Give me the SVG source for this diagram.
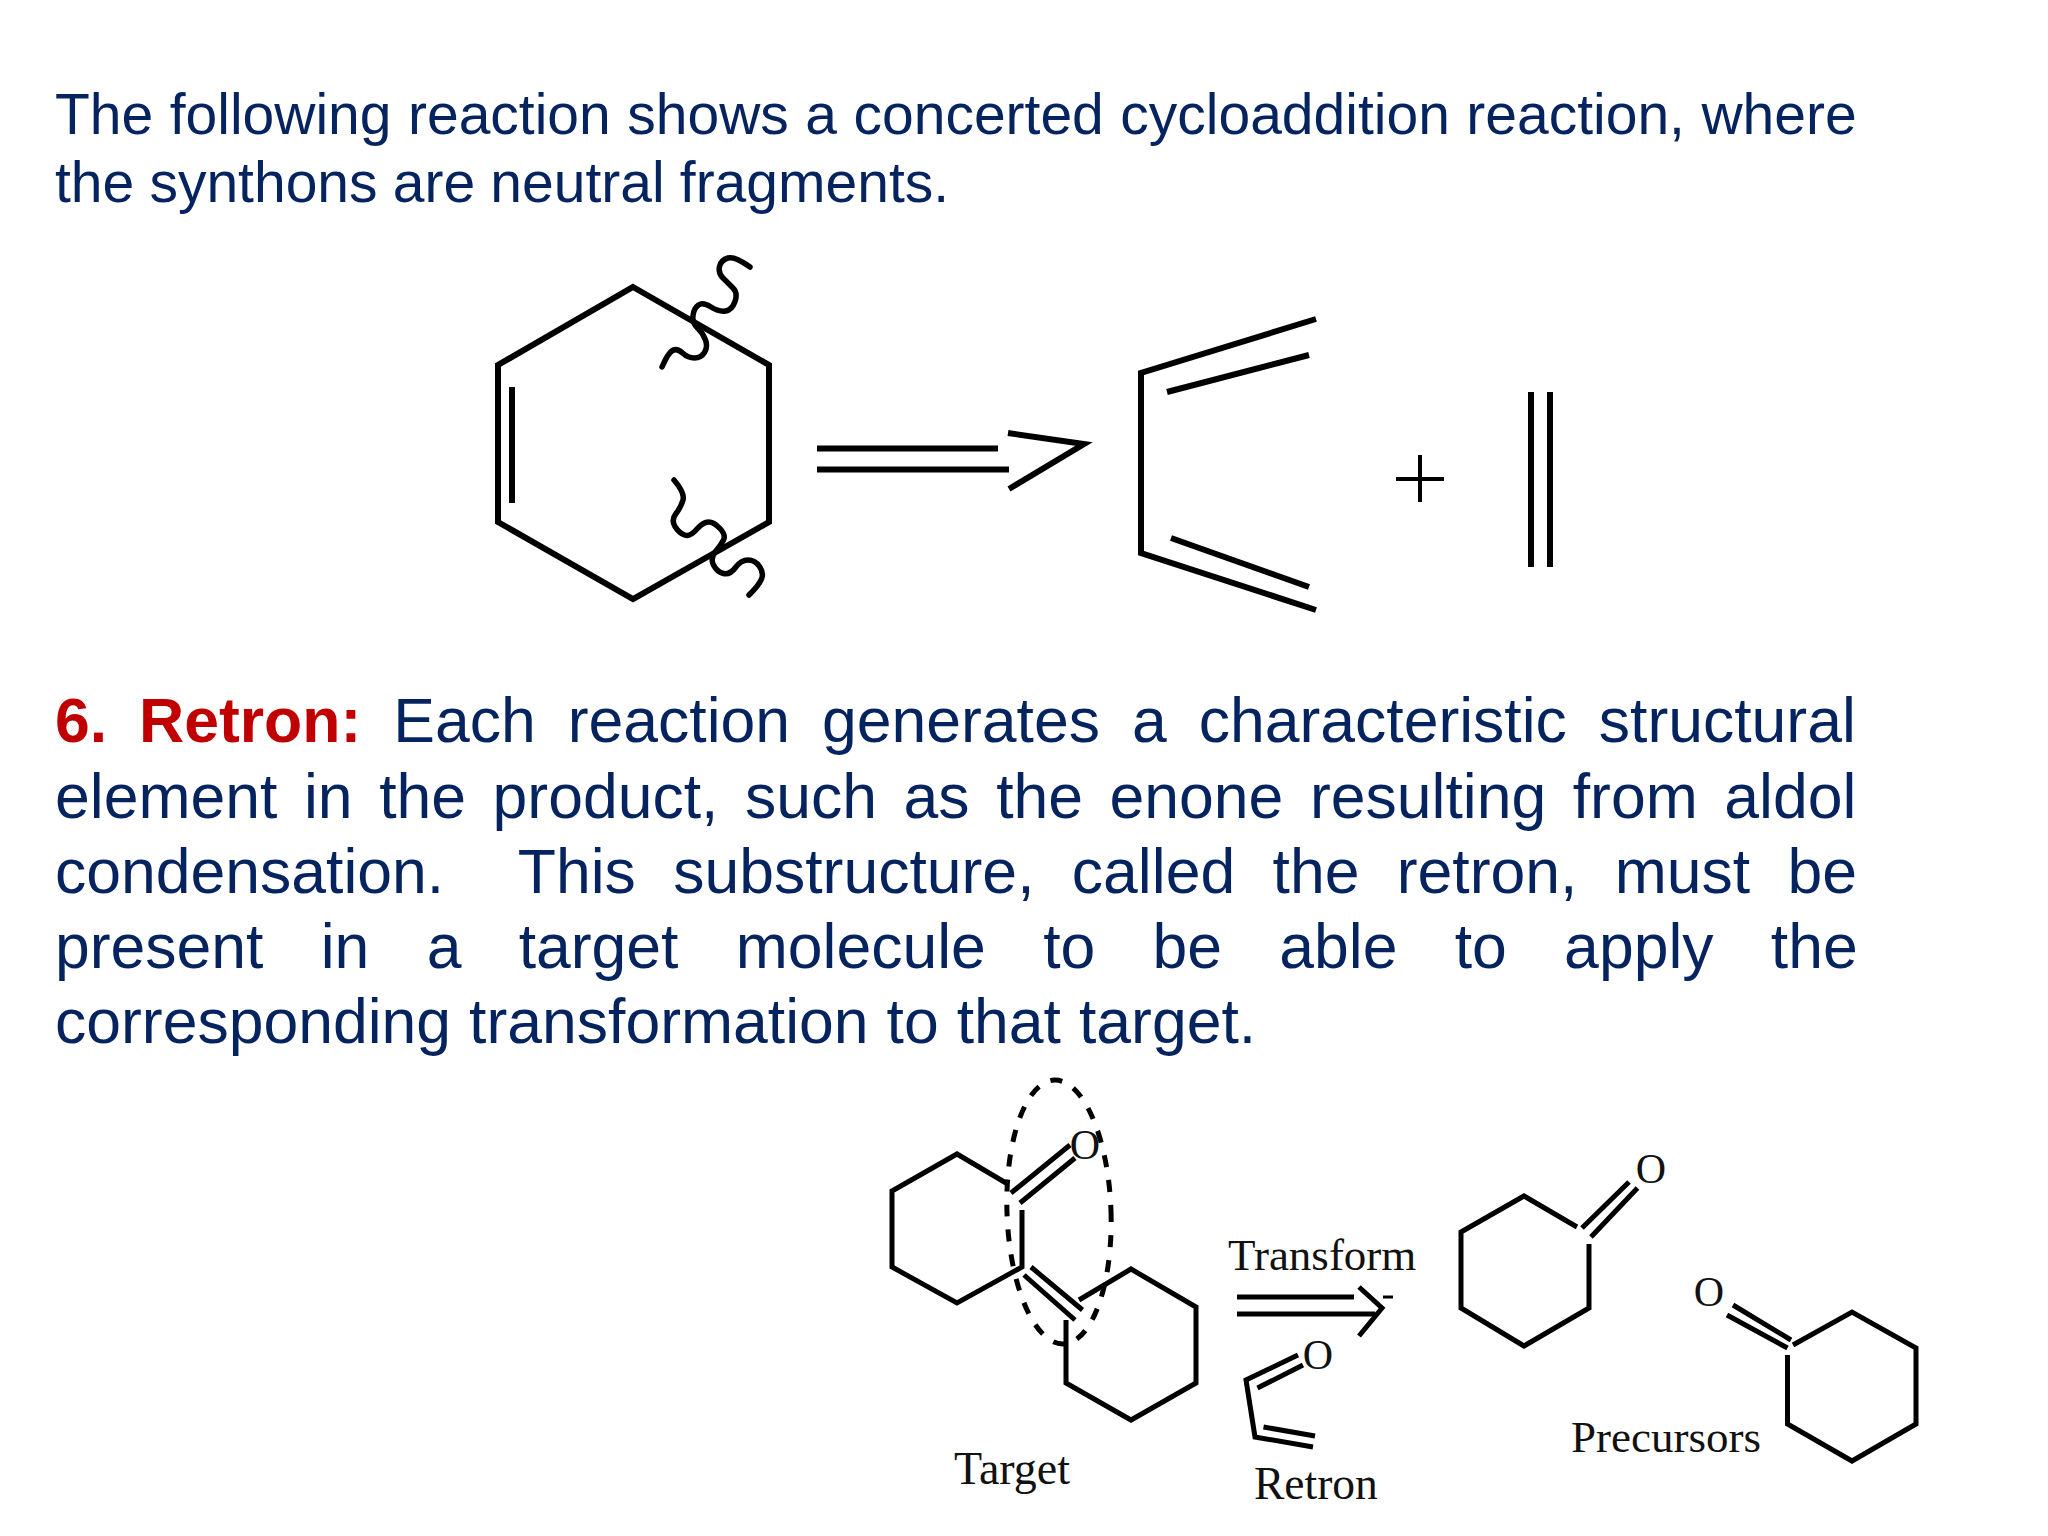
<svg xmlns="http://www.w3.org/2000/svg" width="2048" height="1536" viewBox="0 0 2048 1536">
<style>
.body{font-family:"Liberation Sans",Arial,sans-serif;fill:#05235f;white-space:pre}
.t1{font-size:57px}
.t2{font-size:62.5px}
.red{font-weight:bold;fill:#c00000}
.lbl{font-family:"Liberation Serif","Times New Roman",serif;font-size:45px;fill:#111}
.o{font-family:"Liberation Serif","Times New Roman",serif;font-size:42px;fill:#111;text-anchor:middle}
.b{fill:none;stroke:#000;stroke-width:5;stroke-linejoin:miter;stroke-linecap:butt}
.b6{fill:none;stroke:#000;stroke-width:6;stroke-linejoin:miter;stroke-linecap:butt}
.s{fill:none;stroke:#000;stroke-width:5.500;stroke-linejoin:round;stroke-linecap:round}
</style>
<rect width="2048" height="1536" fill="#fff"/>
<g id="intro-text" class="body">
<text class="t1" x="55" y="134" word-spacing="0.65">The following reaction shows a concerted cycloaddition reaction, where</text>
<text class="t1" x="55" y="202" word-spacing="-0.65">the synthons are neutral fragments.</text>
</g>
<g id="retron-text" class="body" xml:space="preserve">
<text class="t2" x="55" y="741.500" word-spacing="14.6"><tspan class="red">6. Retron:</tspan> Each reaction generates a characteristic structural</text>
<text class="t2" x="55" y="817.500" word-spacing="9.2">element in the product, such as the enone resulting from aldol</text>
<text class="t2" x="55" y="892.500" word-spacing="20" xml:space="preserve">condensation.  This substructure, called the retron, must be</text>
<text class="t2" x="55" y="967.500" word-spacing="39.9">present in a target molecule to be able to apply the</text>
<text class="t2" x="55" y="1042.500" word-spacing="0.65">corresponding transformation to that target.</text>
</g>
<g id="cyclohexene">
<path class="b6" d="M633 287L769 365V522L633 599L498 522V365Z"/>
<path class="b6" d="M512 387V503"/>
</g>
<g id="disconnections" transform="translate(-3 -2)">
<path class="s" d="M753 269Q738 258 731 260Q724 262 722.500 268.500Q721 275 726 280Q731 285 736 290Q741 295 738 303.500Q735 312 728.500 313Q722 314 714 309Q706 304 701.500 307Q697 310 696 317.500Q695 325 700.500 330Q706 335 708.500 342Q711 349 707.500 354.500Q704 360 697.500 360Q691 360 685.500 355Q680 350 675.500 352.500Q671 355 665 369"/>
<path class="s" d="M677 482Q688 495 686 502Q684 509 679 515.500Q674 522 678 528.500Q682 535 687.500 537Q693 539 699.500 531.500Q706 524 711.500 524Q717 524 723 530.500Q729 537 726.500 542Q724 547 718.500 553.500Q713 560 716.500 567Q720 574 726.500 575.500Q733 577 738.500 569.500Q744 562 751 562Q758 562 762.500 568.500Q767 575 764.500 581Q762 587 752 597"/>
</g>
<g id="butadiene">
<path class="b6" d="M1316 319L1141 373V553L1316 610"/>
<path class="b6" d="M1167 392L1309 355"/>
<path class="b6" d="M1171 538L1309 587"/>
</g>
<g id="plus"><path fill="none" stroke="#000" stroke-width="4" d="M1396 479H1444M1420 455V502"/></g>
<g id="ethylene"><path class="b6" d="M1531 392V567M1550 392V567"/></g>
<g id="connectors">
<g id="retro-arrow-1">
<path class="b6" d="M817 448.500H998M817 469.500H1009"/>
<path class="b6" d="M1008 433L1084 444L1009 489"/>
</g>
<g id="retro-arrow-2">
<path class="b" d="M1237 1297H1354M1237 1314H1375"/>
<path class="b" d="M1359 1287L1382 1308L1359 1336"/>
<path fill="none" stroke="#000" stroke-width="3" d="M1383 1297H1393"/>
</g>
</g>
<g id="target">
<path class="b" d="M1022 1210V1267L957 1303L892 1267V1191L957 1154L1006 1183"/>
<path class="b" d="M1011 1193L1070 1145M1020 1203L1075 1158"/>
<text class="o" x="1085" y="1159">O</text>
<path class="b" d="M1031 1267L1082.500 1310M1024 1275L1075 1320"/>
<path class="b" d="M1066 1320V1383L1131 1420L1196 1383V1307L1131 1269L1079 1300"/>
<ellipse cx="1059" cy="1212" rx="52" ry="132" transform="rotate(-2 1059 1212)" fill="none" stroke="#000" stroke-width="5" stroke-dasharray="12 13"/>
<text class="lbl" x="954" y="1484" style="font-size:46px">Target</text>
</g>
<g id="transform-label"><text class="lbl" x="1228" y="1270">Transform</text></g>
<g id="retron">
<text class="o" x="1318" y="1369">O</text>
<path class="b" d="M1298 1355L1246 1380L1255 1437L1313 1447"/>
<path class="b" d="M1257.500 1388L1303 1365M1263.500 1427L1315 1436"/>
<text class="lbl" x="1254" y="1499" style="font-size:45.500px">Retron</text>
</g>
<g id="precursor-a">
<path class="b" d="M1589 1244V1308L1524 1346L1461 1308V1232L1524 1196L1577 1227"/>
<path class="b" d="M1582 1228L1629 1182M1591 1237L1637.500 1188"/>
<text class="o" x="1651" y="1183">O</text>
</g>
<g id="precursor-b">
<path class="b" d="M1793 1345L1852 1312L1916 1348V1424L1852 1461L1787.500 1424V1355"/>
<path class="b" d="M1787.500 1348L1727 1315M1791 1340L1733 1305"/>
<text class="o" x="1709" y="1306">O</text>
</g>
<g id="precursors-label"><text class="lbl" x="1571" y="1452">Precursors</text></g>
</svg>
